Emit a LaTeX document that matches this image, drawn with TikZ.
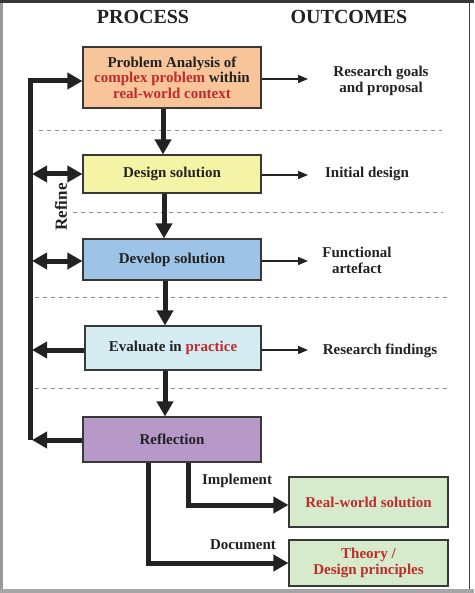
\documentclass[tikz,border=0pt]{standalone}
\usepackage{fontspec}
\setmainfont{Liberation Serif}
\usetikzlibrary{arrows.meta,calc}
\definecolor{txt}{HTML}{222222}
\definecolor{redt}{HTML}{BE2B2B}
\definecolor{cOrange}{HTML}{F8C49A}
\definecolor{cYellow}{HTML}{F5F4A6}
\definecolor{cBlue}{HTML}{9DC3E6}
\definecolor{cCyan}{HTML}{D4ECF2}
\definecolor{cPurple}{HTML}{B698C9}
\definecolor{cGreen}{HTML}{D6EBCC}
\definecolor{dash}{HTML}{8A8A8A}
\tikzset{
  box/.style={draw=txt!90, line width=1.1pt, minimum width=178pt, inner sep=0pt, align=center,
    text=txt, font=\fontsize{15}{15.5}\selectfont\bfseries},
  gbox/.style={box, fill=cGreen, minimum width=159pt, text=redt},
  lbl/.style={text=txt, font=\fontsize{15}{15.5}\selectfont\bfseries, align=center, inner sep=0pt},
  head/.style={text=txt, font=\fontsize{20}{22}\selectfont\bfseries, inner sep=0pt},
  bigarrow/.style={draw=txt, line width=5pt, -{Triangle[length=15pt,width=16pt]}},
  bigline/.style={draw=txt, line width=5pt},
  bigdouble/.style={draw=txt, line width=5pt, {Triangle[length=15pt,width=16pt]}-{Triangle[length=15pt,width=16pt]}},
  thinarrow/.style={draw=txt, line width=1.3pt, -{Triangle[length=10pt,width=8pt]}},
  sep/.style={draw=dash, line width=0.9pt, dash pattern=on 4pt off 4pt},
}
\begin{document}
\begin{tikzpicture}[x=1pt,y=-1pt]
\useasboundingbox (0,0) rectangle (474,593);
% frame
\fill[white] (0,0) rectangle (474,593);
\fill[black!40] (0,0) rectangle (2.5,593);
\fill[black!78] (0,0) rectangle (474,3);
\fill[black!35] (0,589) rectangle (474,593);
\draw[black!75, line width=1pt] (469,3) -- (469,589);

% headings
\node[head] (hp) at (143,17) {PROCESS};
\node[head] (ho) at (349,17) {OUTCOMES};

% separators
\coordinate (d1a) at (39,130); \coordinate (d1b) at (442,130);
\coordinate (d2a) at (73,212); \coordinate (d2b) at (443,212);
\coordinate (d3a) at (35,297); \coordinate (d3b) at (448,297);
\coordinate (d4a) at (35,388); \coordinate (d4b) at (448,388);
\draw[sep] (d1a) -- (d1b);
\draw[sep] (d2a) -- (d2b);
\draw[sep] (d3a) -- (d3b);
\draw[sep] (d4a) -- (d4b);

% process boxes
\node[box, fill=cOrange, minimum height=61pt] (b1) at (172,77.5)
  {Problem Analysis of\\ \textcolor{redt}{complex problem} within\\ \textcolor{redt}{real-world context}};
\node[box, fill=cYellow, minimum height=38pt] (b2) at (172,174) {Design solution};
\node[box, fill=cBlue, minimum height=41pt] (b3) at (172,259.5) {Develop solution};
\node[box, fill=cCyan, minimum height=44pt, minimum width=176pt] (b4) at (173,348) {Evaluate in \textcolor{redt}{practice}};
\node[box, fill=cPurple, minimum height=45pt] (b5) at (172,439.5) {Reflection};

% final outcome boxes
\node[gbox, minimum height=50pt] (g1) at (368.5,502) {Real-world solution};
\node[gbox, minimum height=46pt] (g2) at (368.5,563) {Theory /\\ Design principles};

% outcomes text
\node[lbl] (o1) at (381,81) {Research goals\\ and proposal};
\node[lbl] (o2) at (367,174) {Initial design};
\node[lbl] (o3) at (357,260.5) {Functional\\ artefact};
\node[lbl] (o4) at (380,351) {Research findings};

% thin outcome arrows
\coordinate (e1) at (308,79);
\coordinate (e2) at (308,175);
\coordinate (e3) at (308,261);
\coordinate (e4) at (308,350);
\draw[thinarrow] (b1.east |- e1) -- (e1);
\draw[thinarrow] (b2.east |- e2) -- (e2);
\draw[thinarrow] (b3.east |- e3) -- (e3);
\draw[thinarrow] (b4.east |- e4) -- (e4);

% down arrows
\draw[bigarrow] ([xshift=-9pt]b1.south) -- ([xshift=-9pt]b2.north);
\draw[bigarrow] ([xshift=-8pt]b2.south) -- ([xshift=-8pt]b3.north);
\draw[bigarrow] ([xshift=-7pt]b3.south) -- ([xshift=-8pt]b4.north);
\draw[bigarrow] ([xshift=-8pt]b4.south) -- ([xshift=-7pt]b5.north);

% feedback loop
\coordinate (lt) at (30,81);
\coordinate (lb) at (30,440);
\coordinate (l2) at (30,174);
\coordinate (l3) at (30,261);
\coordinate (l4) at (30,350);
\draw[bigline, line join=miter] (lb) -- (lt) -- ([xshift=-14pt]b1.west |- lt);
\draw[bigarrow] ([xshift=-16pt]b1.west |- lt) -- (b1.west |- lt);
\draw[bigarrow] (b5.west |- lb) -- ([xshift=2pt]lb);
\draw[bigarrow] (b4.west |- l4) -- ([xshift=2pt]l4);
\draw[bigdouble] ([xshift=2pt]l2) -- (b2.west |- l2);
\draw[bigdouble] ([xshift=2pt]l3) -- (b3.west |- l3);
\node[lbl, font=\fontsize{17}{18}\selectfont\bfseries, rotate=90] (refine) at (61,207) {Refine};

% bottom branches
\coordinate (im) at (188,505);
\coordinate (dc) at (148,563);
\draw[bigarrow, line join=miter] (b5.south -| im) -- (im) -- (g1.west |- im);
\draw[bigarrow, line join=miter] (b5.south -| dc) -- (dc) -- (g2.west |- dc);
\node[lbl] (limp) at (237,481) {Implement};
\node[lbl] (ldoc) at (243,545) {Document};
\end{tikzpicture}
\end{document}
